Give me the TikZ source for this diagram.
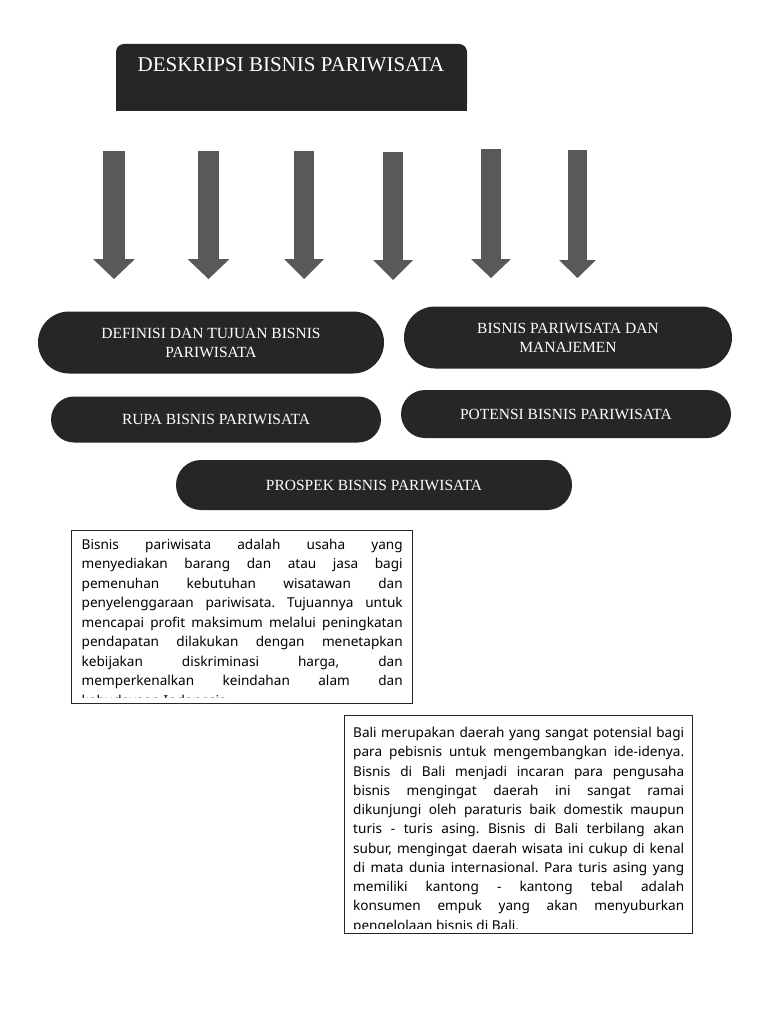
\documentclass[tikz,border=0pt]{standalone}
\usepackage{fontspec}
\setmainfont{Liberation Serif}
\newfontfamily\bodyfont{Noto Sans}
\usetikzlibrary{shapes.misc}
\definecolor{boxdark}{HTML}{262626}
\definecolor{arrowgray}{HTML}{595959}

\begin{document}
\begin{tikzpicture}[x=1pt,y=-1pt,
    pill/.style={rounded rectangle, fill=boxdark, text=white, inner sep=0pt, align=center, font=\fontsize{15.5}{19}\selectfont},
    textblock/.style={anchor=north west, inner sep=0pt, text width=#1, align=justify, font=\bodyfont\frenchspacing\fontsize{13.6}{19.5}\selectfont}]
    \useasboundingbox[fill=white] (0,0) rectangle (768,1024);

    \fill[boxdark, rounded corners=8] (116,111) rectangle (467,44);
    \fill[boxdark] (116,111) rectangle (467,70);
    \node[text=white, font=\fontsize{21}{24}\selectfont] (title) at (291,64.7) {DESKRIPSI BISNIS PARIWISATA};

    \foreach \cx/\ytop/\ybase/\ytip/\sw/\hw in {114/151/259/279/11/21, 208.5/151/259/279/10.5/21, 304/151/259/279/10/20,
        393/152/260/280/10/20, 491/149/259/278/10/20, 577.5/150/260/278/9.5/18.5}
    {
        \fill[arrowgray] (\cx-\sw,\ytop) rectangle (\cx+\sw,\ybase);
        \fill[arrowgray] (\cx-\hw,\ybase) -- (\cx+\hw,\ybase) -- (\cx,\ytip) -- cycle;
    }

    \node[pill, minimum width=346pt, minimum height=62pt] (definisi) at (211,342.5) {DEFINISI DAN TUJUAN BISNIS\\PARIWISATA};
    \node[pill, minimum width=328pt, minimum height=62pt] (manajemen) at (568,337.5) {BISNIS PARIWISATA DAN\\MANAJEMEN};
    \node[pill, minimum width=330pt, minimum height=46pt] (rupa) at (216,419.5) {RUPA BISNIS PARIWISATA};
    \node[pill, minimum width=330pt, minimum height=48pt] (potensi) at (566,414) {POTENSI BISNIS PARIWISATA};
    \node[pill, minimum width=396pt, minimum height=50pt] (prospek) at (374,485) {PROSPEK BISNIS PARIWISATA};

    \begin{scope}
        \clip (71,530) rectangle (412,697.5);
        \node[textblock=321pt] (definisitext) at (81.5,538.5) {%
            Bisnis pariwisata adalah usaha yang\linebreak
            menyediakan barang dan atau jasa bagi\linebreak
            pemenuhan kebutuhan wisatawan dan\linebreak
            penyelenggaraan pariwisata. Tujuannya untuk\linebreak
            mencapai profit maksimum melalui peningkatan\linebreak
            pendapatan dilakukan dengan menetapkan\linebreak
            kebijakan diskriminasi harga, dan\linebreak
            memperkenalkan keindahan alam dan\linebreak
            kebudayaan Indonesia.};
    \end{scope}
    \draw[line width=1pt, black!85] (71,530) rectangle (412,703);

    \begin{scope}
        \clip (344,715) rectangle (692,928);
        \node[textblock=331pt, font=\bodyfont\frenchspacing\fontsize{13.6}{19.25}\selectfont] (balitext) at (353,727) {%
            Bali merupakan daerah yang sangat potensial bagi\linebreak
            para pebisnis untuk mengembangkan ide-idenya.\linebreak
            Bisnis di Bali menjadi incaran para pengusaha\linebreak
            bisnis mengingat daerah ini sangat ramai\linebreak
            dikunjungi oleh paraturis baik domestik maupun\linebreak
            turis - turis asing. Bisnis di Bali terbilang akan\linebreak
            subur, mengingat daerah wisata ini cukup di kenal\linebreak
            di mata dunia internasional. Para turis asing yang\linebreak
            memiliki kantong - kantong tebal adalah\linebreak
            konsumen empuk yang akan menyuburkan\linebreak
            pengelolaan bisnis di Bali.};
    \end{scope}
    \draw[line width=1pt, black!85] (344,715) rectangle (692,933);
\end{tikzpicture}
\end{document}
